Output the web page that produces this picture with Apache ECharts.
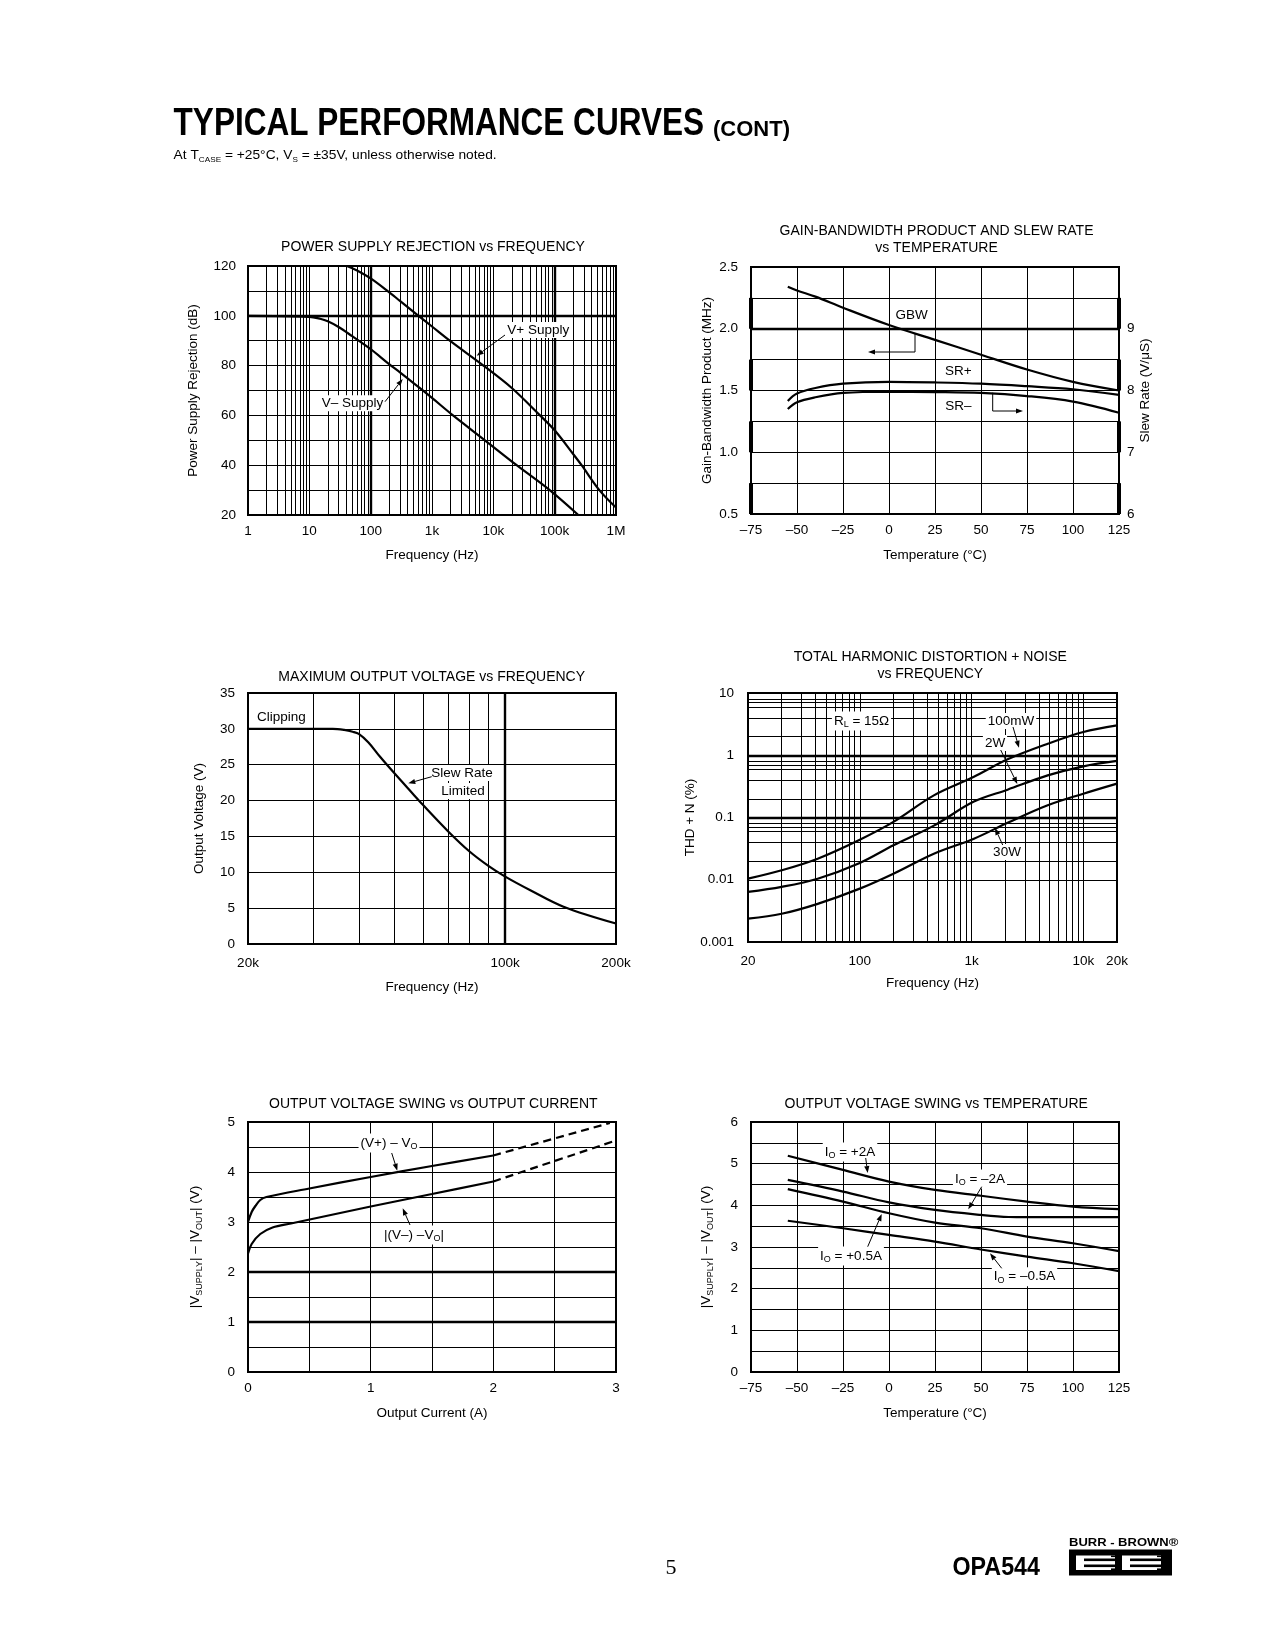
<!DOCTYPE html>
<html><head><meta charset="utf-8">
<script src="https://cdn.jsdelivr.net/npm/echarts@6/dist/echarts.min.js"></script>
<style>html,body{margin:0;padding:0;background:#fff;}#c{width:1275px;height:1650px;}</style>
</head><body><div id="c"></div>
<script>
// ================= DATA =================
// 1. Power supply rejection vs frequency
const psrTicks = [1, 10, 100, 1000, 10000, 100000, 1000000];
const psrTickLabels = ['1', '10', '100', '1k', '10k', '100k', '1M'];
const psrVplus = [[41,120],[60,118.2],[100,115],[183,110.2],[300,106],[603,100],[1000,95.7],[2000,89.8],[6900,80],[20000,71],[57600,60],[100000,54],[200000,44.5],[275000,40],[535000,30],[1000000,23]];
const psrVminus = [[1,100],[10,99.6],[15,98.8],[20,97.8],[30,95.5],[50,91.8],[100,86.6],[200,80.6],[300,77.3],[500,73],[1000,67],[2200,60],[7300,50],[24000,40],[83000,30],[243000,20]];

// 2. Gain-bandwidth product and slew rate vs temperature
const gbwTemp = [-55, -50, -40, -25, 0, 25, 50, 75, 100, 125];
const gbwMHz  = [2.34, 2.31, 2.26, 2.17, 2.03, 1.91, 1.79, 1.67, 1.57, 1.50];
const srPlus  = [7.83, 7.95, 8.04, 8.11, 8.14, 8.13, 8.11, 8.07, 8.02, 7.93];
const srMinus = [7.70, 7.81, 7.89, 7.96, 7.98, 7.975, 7.96, 7.91, 7.82, 7.64];

// 3. Maximum output voltage vs frequency
const movTicks = [20000, 100000, 200000];
const movTickLabels = ['20k', '100k', '200k'];
const movFreq = [20000, 30000, 34000, 36500, 38500, 40000, 42500, 45700, 50000, 56000, 60000, 70000, 80000, 90000, 100000, 117000, 144000, 200000];
const movVolt = [30, 30, 30, 29.85, 29.6, 29.3, 28.1, 26.1, 23.8, 21, 19.3, 15.7, 12.9, 10.9, 9.4, 7.5, 5.2, 2.85];

// 4. THD + N vs frequency
const thdXTicks = [10, 100, 1000, 10000, 20000];
const thdXLabels = ['20', '100', '1k', '10k', '20k'];
const thdYTicks = [0.001, 0.01, 0.1, 1, 10];
const thdYLabels = ['0.001', '0.01', '0.1', '1', '10'];
const thdFreq  = [10, 20, 42, 100, 200, 460, 1050, 2100, 4800, 10000, 20000];
const thd100mW = [0.0104, 0.0142, 0.0218, 0.044, 0.085, 0.227, 0.45, 0.86, 1.53, 2.36, 3.02];
const thd2W    = [0.0064, 0.0077, 0.0104, 0.0186, 0.0357, 0.074, 0.18, 0.28, 0.475, 0.664, 0.81];
const thd30W   = [0.00237, 0.00284, 0.0041, 0.0072, 0.0125, 0.0262, 0.0457, 0.082, 0.157, 0.241, 0.35];

// 5. Output voltage swing vs output current
const swPlusSolid   = [[0,3.0],[0.03,3.2],[0.06,3.32],[0.1,3.44],[0.15,3.5],[0.5,3.67],[1,3.9],[1.5,4.12],[2,4.33]];
const swPlusDash    = [[2,4.33],[2.95,4.98]];
const swMinusSolid  = [[0,2.37],[0.03,2.56],[0.1,2.76],[0.2,2.89],[0.35,2.97],[1,3.31],[1.5,3.56],[2,3.81]];
const swMinusDash   = [[2,3.81],[3,4.63]];

// 6. Output voltage swing vs temperature
const tsTemp = [-55, -25, 0, 25, 50, 75, 100, 125];
const tsP2A  = [5.19, 4.85, 4.57, 4.37, 4.23, 4.09, 3.97, 3.91];
const tsM2A  = [[-55,4.61],[-25,4.33],[0,4.07],[25,3.89],[50,3.77],[65,3.72],[75,3.715],[100,3.715],[125,3.715]];
const tsP05A = [4.39, 4.09, 3.81, 3.585, 3.45, 3.25, 3.09, 2.90];
const tsM05A = [3.63, 3.45, 3.29, 3.13, 2.94, 2.77, 2.61, 2.42];

// ================= STYLE / LAYOUT =================
const FF = '"Liberation Sans", Arial, Helvetica, sans-serif';
const FS = 13.5;
const zip = (xs, ys) => xs.map((x, i) => [x, ys[i]]);
const GRIDS = [
  {left:248, top:266, width:368, height:249},
  {left:751, top:267, width:368, height:247},
  {left:248, top:693, width:368, height:251},
  {left:748, top:693, width:369, height:249},
  {left:248, top:1122, width:368, height:250},
  {left:751, top:1122, width:368, height:250}
];
const tstyle = {color:'#000', fontSize:FS, fontFamily:FF};
function axis(extra, label) {
  return Object.assign({
    axisLine:{show:false}, axisTick:{show:false}, splitLine:{show:false},
    axisLabel: Object.assign({color:'#000', fontSize:FS, fontFamily:FF}, label || {}),
    nameLocation:'middle', nameTextStyle: Object.assign({}, tstyle)
  }, extra);
}
const dashFmt = v => v < 0 ? '\u2013' + (-v) : String(v);

function decadeMinors(d0, d1, ks) {
  const out = [];
  for (let d = d0; d <= d1; d++) ks.forEach(k => out.push(+(k * Math.pow(10, d)).toPrecision(6)));
  return out;
}
function range(a, b, s) { const o = []; for (let v = a; v <= b + 1e-9; v += s) o.push(+v.toFixed(4)); return o; }

function gridLines(xi, yi, xs, xsBold, ys, ysBold, extra) {
  const data = [];
  xs.forEach(v => data.push({xAxis: v, lineStyle:{width:1}}));
  xsBold.forEach(v => data.push({xAxis: v, lineStyle:{width:2.4}}));
  ys.forEach(v => data.push({yAxis: v, lineStyle:{width:1}}));
  ysBold.forEach(v => data.push({yAxis: v, lineStyle:{width:2.4}}));
  (extra || []).forEach(s => data.push(s));
  return {type:'line', xAxisIndex:xi, yAxisIndex:yi, data:[], silent:true, z:1, animation:false,
    markLine:{silent:true, animation:false, z:1, symbol:['none','none'], label:{show:false},
      emphasis:{disabled:true}, lineStyle:{color:'#000', type:'solid', width:1}, data}};
}
function curve(xi, yi, data, dashed) {
  return {type:'line', xAxisIndex:xi, yAxisIndex:yi, data, showSymbol:false, symbol:'none',
    smooth:0.35, silent:true, z:5, animation:false,
    lineStyle:{color:'#000', width:2.2, type: dashed ? [8,5] : 'solid'}};
}

const c1x = decadeMinors(0, 5, [2,3,4,5,6,7,8,9]).concat([10, 1000, 10000]);
const c4x = decadeMinors(1, 3, [2,3,4,5,6,7,8,9]).concat([100, 1000, 10000]);
const c4y = decadeMinors(-3, 0, [2,4,6,7,8]).concat([0.01]);
// thick border segments of the GBW / slew-rate frame
const c2Stubs = [];
[[2.0, 2.25], [1.5, 1.75], [1.0, 1.25], [0.5, 0.75]].forEach(p => {
  [-75, 125].forEach(t => c2Stubs.push([{coord:[t, p[0]], lineStyle:{width:4}}, {coord:[t, p[1]]}]));
});

const option = {
  animation:false,
  backgroundColor:'#fff',
  grid: GRIDS.map(g => Object.assign({show:true, borderColor:'#000', borderWidth:2, backgroundColor:'rgba(0,0,0,0)'}, g)),
  xAxis: [
    axis({gridIndex:0, type:'log', logBase:10, min:1, max:1000000, name:'Frequency (Hz)', nameGap:33}, {show:false}),
    axis({gridIndex:1, type:'value', min:-75, max:125, interval:25, name:'Temperature (\u00B0C)', nameGap:34}, {margin:9, formatter:dashFmt}),
    axis({gridIndex:2, type:'log', logBase:10, min:20000, max:200000, name:'Frequency (Hz)', nameGap:36}, {show:false}),
    axis({gridIndex:3, type:'log', logBase:10, min:10, max:20000, name:'Frequency (Hz)', nameGap:34}, {show:false}),
    axis({gridIndex:4, type:'value', min:0, max:3, interval:1, name:'Output Current (A)', nameGap:34}, {margin:9}),
    axis({gridIndex:5, type:'value', min:-75, max:125, interval:25, name:'Temperature (\u00B0C)', nameGap:34}, {margin:9, formatter:dashFmt})
  ],
  yAxis: [
    axis({gridIndex:0, type:'value', min:20, max:120, interval:20, name:'Power Supply Rejection (dB)', nameGap:48, nameRotate:90}, {margin:12}),
    axis({gridIndex:1, type:'value', min:0.5, max:2.5, interval:0.5, name:'Gain-Bandwidth Product (MHz)', nameGap:37, nameRotate:90}, {margin:13, formatter:v => v.toFixed(1)}),
    axis({gridIndex:1, type:'value', position:'right', min:6, max:10, interval:1, name:'Slew Rate (V/\u03BCS)', nameGap:19, nameRotate:90}, {margin:8, formatter:v => v === 10 ? '' : String(v)}),
    axis({gridIndex:2, type:'value', min:0, max:35, interval:5, name:'Output Voltage (V)', nameGap:42, nameRotate:90}, {margin:13}),
    axis({gridIndex:3, type:'log', logBase:10, min:0.001, max:10, name:'THD + N (%)', nameGap:51, nameRotate:90}, {show:false}),
    axis({gridIndex:4, type:'value', min:0, max:5, interval:1, nameGap:44, nameRotate:90,
      name:'{n||V}{s|SUPPLY}{n|| \u2013 |V}{s|OUT}{n|| (V)}',
      nameTextStyle:{color:'#000', fontSize:FS, fontFamily:FF, rich:{
        n:{color:'#000', fontSize:FS, fontFamily:FF, lineHeight:18},
        s:{color:'#000', fontSize:9, fontFamily:FF, lineHeight:10, verticalAlign:'bottom'}}}}, {margin:13}),
    axis({gridIndex:5, type:'value', min:0, max:6, interval:1, nameGap:36, nameRotate:90,
      name:'{n||V}{s|SUPPLY}{n|| \u2013 |V}{s|OUT}{n|| (V)}',
      nameTextStyle:{color:'#000', fontSize:FS, fontFamily:FF, rich:{
        n:{color:'#000', fontSize:FS, fontFamily:FF, lineHeight:18},
        s:{color:'#000', fontSize:9, fontFamily:FF, lineHeight:10, verticalAlign:'bottom'}}}}, {margin:13})
  ],
  series: [
    gridLines(0, 0, c1x, [100, 100000], range(30, 110, 10).filter(v => v !== 100), [100]),
    gridLines(1, 1, range(-50, 100, 25), [], [0.75, 1.0, 1.25, 1.5, 1.75, 2.25], [2.0], c2Stubs),
    gridLines(2, 3, [30000,40000,50000,60000,70000,80000,90000], [100000], range(5, 30, 5), []),
    gridLines(3, 4, c4x, [], c4y, [0.1, 1]),
    gridLines(4, 5, range(0.5, 2.5, 0.5), [], [0.5, 1.5, 2.5, 3, 3.5, 4, 4.5], [1, 2]),
    gridLines(5, 6, range(-50, 100, 25), [], range(0.5, 5.5, 0.5), []),

    curve(0, 0, psrVplus), curve(0, 0, psrVminus),
    curve(1, 1, zip(gbwTemp, gbwMHz)), curve(1, 2, zip(gbwTemp, srPlus)), curve(1, 2, zip(gbwTemp, srMinus)),
    curve(2, 3, zip(movFreq, movVolt)),
    curve(3, 4, zip(thdFreq, thd100mW)), curve(3, 4, zip(thdFreq, thd2W)), curve(3, 4, zip(thdFreq, thd30W)),
    curve(4, 5, swPlusSolid), curve(4, 5, swPlusDash, true), curve(4, 5, swMinusSolid), curve(4, 5, swMinusDash, true),
    curve(5, 6, zip(tsTemp, tsP2A)), curve(5, 6, tsM2A), curve(5, 6, zip(tsTemp, tsP05A)), curve(5, 6, zip(tsTemp, tsM05A))
  ]
};

const chart = echarts.init(document.getElementById('c'), null, {renderer:'canvas', width:1275, height:1650});
chart.setOption(option);

// ================= GRAPHIC (titles, tick labels on log axes, annotations) =================
const G = [];
function txt(x, y, text, o) {
  o = o || {};
  G.push({type:'text', x, y, z:100, scaleX: o.scaleX || 1, silent:true,
    style: Object.assign({text, fill:'#000', fontSize:o.fs || FS, fontFamily:o.ff || FF, fontWeight:o.fw || 'normal',
      align:o.align || 'center', verticalAlign:o.va || 'middle'}, o.style || {})});
}
function rtxt(x, y, text, rich, o) {
  o = o || {};
  G.push({type:'text', x, y, z:100, scaleX:o.scaleX || 1, silent:true,
    style: Object.assign({text, rich, fill:'#000', fontFamily:FF, fontSize:o.fs || FS,
      align:o.align || 'center', verticalAlign:'middle'}, o.style || {})});
}
const WB = {backgroundColor:'#fff', padding:[1,2,1,2]};
function arrowHead(x2, y2, ang) {
  const L = 7, W = 2.6;
  const bx = x2 - L*Math.cos(ang), by = y2 - L*Math.sin(ang);
  const px = -Math.sin(ang)*W, py = Math.cos(ang)*W;
  G.push({type:'polygon', z:101, silent:true, shape:{points:[[x2,y2],[bx+px,by+py],[bx-px,by-py]]}, style:{fill:'#000'}});
  return [bx, by];
}
function arrow(x1, y1, x2, y2) {
  const ang = Math.atan2(y2-y1, x2-x1);
  const b = arrowHead(x2, y2, ang);
  G.push({type:'line', z:101, silent:true, shape:{x1, y1, x2:b[0], y2:b[1]}, style:{stroke:'#000', lineWidth:1}});
}
function leader(points) {
  const n = points.length;
  const ang = Math.atan2(points[n-1][1]-points[n-2][1], points[n-1][0]-points[n-2][0]);
  const b = arrowHead(points[n-1][0], points[n-1][1], ang);
  const pts = points.slice(0, n-1).concat([b]);
  G.push({type:'polyline', z:101, silent:true, shape:{points:pts}, style:{stroke:'#000', lineWidth:1, fill:null}});
}
const pX = (i, v) => chart.convertToPixel({xAxisIndex:i}, v);
const pY = (i, v) => chart.convertToPixel({yAxisIndex:i}, v);

// page header
txt(173.6, 125, 'TYPICAL PERFORMANCE CURVES', {fs:38, fw:'bold', align:'left', scaleX:0.83});
txt(713, 130, '(CONT)', {fs:22, fw:'bold', align:'left', scaleX:1.0});
rtxt(173.6, 155.7, '{a|At T}{s|CASE}{a| = +25\u00B0C, V}{s|S}{a| = \u00B135V, unless otherwise noted.}', {
  a:{fontSize:13.5, fontFamily:FF, fill:'#000', lineHeight:17},
  s:{fontSize:8, fontFamily:FF, fill:'#000', lineHeight:9, verticalAlign:'bottom'}}, {align:'left', scaleX:1.02});

// chart titles
txt(433, 246.7, 'POWER SUPPLY REJECTION vs FREQUENCY', {fs:14});
txt(936.5, 230.7, 'GAIN-BANDWIDTH PRODUCT AND SLEW RATE', {fs:14});
txt(936.5, 248.3, 'vs TEMPERATURE', {fs:14});
txt(431.7, 676.7, 'MAXIMUM OUTPUT VOLTAGE vs FREQUENCY', {fs:14});
txt(930.3, 656.7, 'TOTAL HARMONIC DISTORTION + NOISE', {fs:14});
txt(930.3, 674.3, 'vs FREQUENCY', {fs:14});
txt(433.3, 1104, 'OUTPUT VOLTAGE SWING vs OUTPUT CURRENT', {fs:14});
txt(936.2, 1104, 'OUTPUT VOLTAGE SWING vs TEMPERATURE', {fs:14});

// log-axis tick labels
psrTicks.forEach((v, i) => txt(pX(0, v), pY(0, 20) + 16, psrTickLabels[i]));
movTicks.forEach((v, i) => txt(pX(2, v), pY(3, 0) + 19, movTickLabels[i]));
thdXTicks.forEach((v, i) => txt(pX(3, v), pY(4, 0.001) + 19, thdXLabels[i]));
thdYTicks.forEach((v, i) => txt(pX(3, 10) - 14, pY(4, v), thdYLabels[i], {align:'right'}));

// chart 1 annotations
txt(538.3, 330, 'V+ Supply', {style:WB});
arrow(505, 335, 476.7, 355.7);
txt(352.5, 403.3, 'V\u2013 Supply', {style:WB});
arrow(385, 401.7, 402.7, 379);

// chart 2 annotations
txt(911.7, 315, 'GBW');
leader([[915, 333], [915, 352], [868, 352]]);
txt(958.3, 371, 'SR+');
txt(958.3, 406.7, 'SR\u2013');
leader([[992.7, 392.7], [992.7, 411], [1023, 411]]);

// chart 3 annotations
txt(255, 717, 'Clipping', {align:'left', style:WB});
txt(462, 773, 'Slew Rate', {style:WB});
txt(463, 791, 'Limited', {style:WB});
arrow(431.7, 776.7, 408.3, 783.3);

// chart 4 annotations
const subRich = {
  n:{fontSize:FS, fontFamily:FF, fill:'#000', lineHeight:17},
  s:{fontSize:9, fontFamily:FF, fill:'#000', lineHeight:10, verticalAlign:'bottom'}};
rtxt(861.5, 721, '{n|R}{s|L}{n| = 15\u03A9}', subRich, {style:WB});
txt(1011, 721, '100mW', {style:WB});
arrow(1013, 727, 1019, 747.7);
txt(995, 743, '2W', {style:WB});
arrow(1000.7, 750, 1017.3, 784);
txt(1007, 852, '30W', {style:WB});
arrow(1002.7, 845, 995, 828);

// chart 5 annotations
rtxt(389, 1143, '{n|(V+) \u2013 V}{s|O}', subRich, {style:WB});
arrow(391.7, 1153, 397.3, 1170.7);
rtxt(414, 1235, '{n||(V\u2013) \u2013V}{s|O}{n||}', subRich, {style:WB});
arrow(410, 1225, 402.7, 1208.3);

// chart 6 annotations
rtxt(850, 1152, '{n|I}{s|O}{n| = +2A}', subRich, {style:WB});
arrow(865.7, 1158, 867.7, 1173);
rtxt(980, 1179, '{n|I}{s|O}{n| = \u20132A}', subRich, {style:WB});
arrow(981.7, 1186.7, 968.3, 1209.3);
rtxt(851, 1256, '{n|I}{s|O}{n| = +0.5A}', subRich, {style:WB});
arrow(867.7, 1246.7, 881.7, 1214);
rtxt(1024.5, 1276.7, '{n|I}{s|O}{n| = \u20130.5A}', subRich, {style:WB});
arrow(1001.7, 1268.3, 990, 1253.3);

// footer
txt(671, 1568, '5', {fs:22, ff:'"Liberation Serif", "Times New Roman", serif'});
txt(952.5, 1568, 'OPA544', {fs:25, fw:'bold', align:'left', scaleX:0.93});
txt(1069, 1543, 'BURR - BROWN\u00AE', {fs:10, fw:'bold', align:'left', scaleX:1.3});
G.push({type:'rect', z:100, silent:true, shape:{x:1069, y:1549.5, width:103, height:26}, style:{fill:'#000'}});
[1076, 1122].forEach(bx => {
  G.push({type:'rect', z:101, silent:true, shape:{x:bx, y:1555.5, width:39, height:14.5}, style:{fill:'#fff'}});
  G.push({type:'rect', z:102, silent:true, shape:{x:bx+8, y:1558.5, width:31, height:2.6}, style:{fill:'#000'}});
  G.push({type:'rect', z:102, silent:true, shape:{x:bx+8, y:1564.5, width:31, height:2.6}, style:{fill:'#000'}});
  G.push({type:'rect', z:102, silent:true, shape:{x:bx+35, y:1555.5, width:4, height:1.6}, style:{fill:'#000'}});
  G.push({type:'rect', z:102, silent:true, shape:{x:bx+35, y:1568.4, width:4, height:1.6}, style:{fill:'#000'}});
});

chart.setOption({graphic: G});
</script>
</body></html>
